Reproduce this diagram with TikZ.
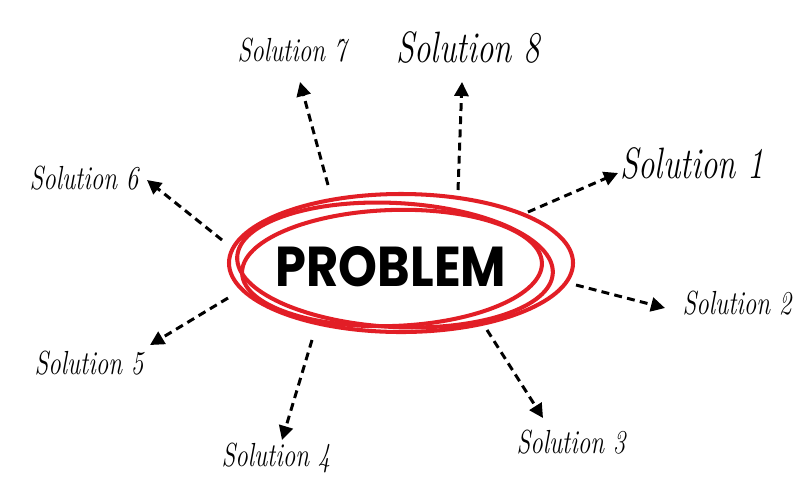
\documentclass[tikz,border=0pt]{standalone}
\usepackage{fontspec}
\newfontfamily\probfont{Poppins}
\usetikzlibrary{arrows.meta}
\definecolor{ringred}{RGB}{226,30,38}
\tikzset{
  ring/.style={draw=ringred, line width=2.3pt},
  solarrow/.style={line width=1.7pt, dash pattern=on 4.5pt off 3pt,
    -{Triangle[length=8pt,width=8pt]}},
  sol/.style={font=\itshape\fontsize{19}{19}\selectfont, inner sep=0pt, xscale=0.75},
  bigsol/.style={sol, font=\itshape\fontsize{25}{25}\selectfont},
}
\begin{document}
\begin{tikzpicture}[x=0.02cm, y=-0.02cm]
    \useasboundingbox (0,0) rectangle (800,501);

    % 红圈
    \draw[ring] (401,263) ellipse [x radius=172, y radius=69];
    \draw[ring, rotate around={-3:(395,265)}] (395,265) ellipse [x radius=158, y radius=62];
    \draw[ring, rotate around={2:(392,268)}] (392,268) ellipse [x radius=150, y radius=58];

    % 中心
    \node[font=\probfont\bfseries\fontsize{32}{32}\selectfont, inner sep=0pt, xscale=0.88] (prob) at (391,267) {PROBLEM};

    % 解
    \node[bigsol] (sol1) at (692,163) {Solution 1};
    \node[sol] (sol2) at (737,303) {Solution 2};
    \node[sol] (sol3) at (571,442) {Solution 3};
    \node[sol] (sol4) at (276,458) {Solution 4};
    \node[sol] (sol5) at (89,363) {Solution 5};
    \node[sol] (sol6) at (84,178) {Solution 6};
    \node[sol] (sol7) at (292,50) {Solution 7};
    \node[bigsol] (sol8) at (468,47) {Solution 8};

    % 箭头
    \foreach \n/\tx/\ty/\hx/\hy in {1/528/212/618/173, 2/576/285/665/308,
        3/487/330/543/418, 4/312/340/282/440, 5/228/298/150/345,
        6/222/240/147/180, 7/328/185/300/82, 8/458/190/462/82} {
        \coordinate (t\n) at (\tx,\ty);
        \coordinate (h\n) at (\hx,\hy);
        \draw[solarrow] (t\n) -- (h\n);
    }
\end{tikzpicture}
\end{document}
